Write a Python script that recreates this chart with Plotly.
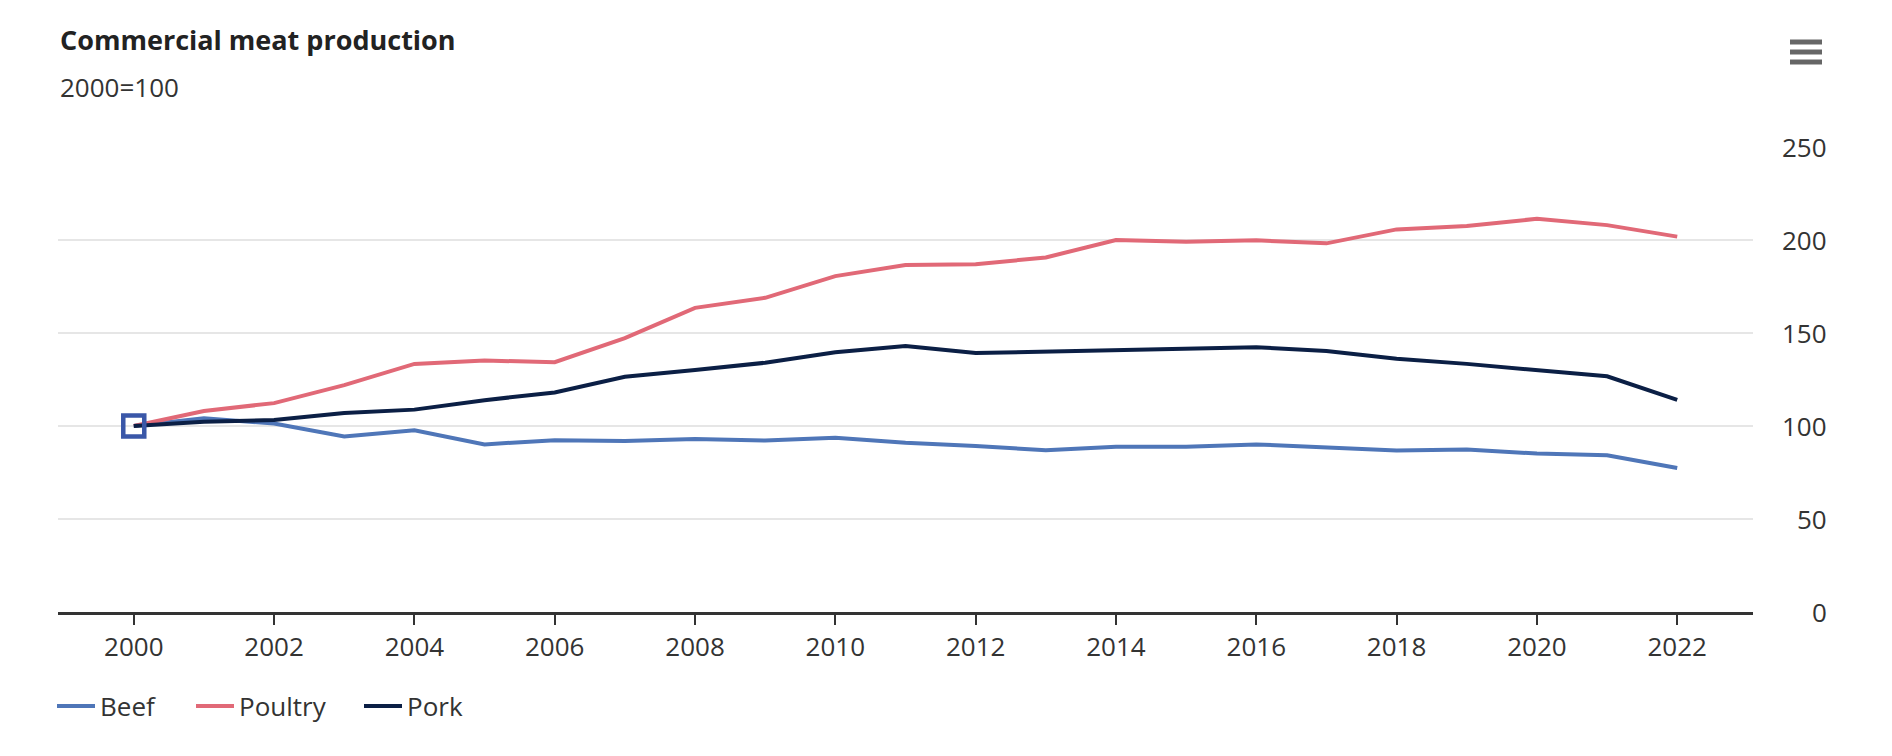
import plotly.graph_objects as go

years = list(range(2000, 2023))
beef = [100, 104.2, 101.3, 94.4, 97.7, 90.1, 92.4, 91.9, 93.0, 92.2, 93.7, 91.0,
        89.2, 87.0, 88.8, 88.8, 90.1, 88.6, 86.8, 87.4, 85.2, 84.3, 77.4]
poultry = [100, 108.1, 112.3, 122.0, 133.4, 135.2, 134.3, 147.3, 163.5, 168.9, 180.6, 186.5,
           187.0, 190.6, 200.0, 199.1, 199.8, 198.2, 205.7, 207.5, 211.4, 208.0, 201.8]
pork = [100, 102.3, 103.2, 107.0, 108.8, 113.9, 118.0, 126.5, 130.1, 134.0, 139.7, 143.0,
        139.2, 140.1, 140.6, 141.9, 142.4, 140.3, 136.1, 133.4, 130.3, 126.7, 114.0]
x_ticks = list(range(2000, 2023, 2))
y_ticks = [0, 50, 100, 150, 200, 250]

W, H = 1892, 756
L, R, T, B = 58, 1753, 147, 612
FONT = "Open Sans"

def px_x(px):
    return (px - L) / (R - L)

def px_y(py):
    return (B - py) / (B - T)

fig = go.Figure()
fig.add_trace(go.Scatter(x=years, y=beef, name="Beef", mode="lines", legend="legend",
                         line=dict(color="#4f76b8", width=4)))
fig.add_trace(go.Scatter(x=years, y=poultry, name="Poultry", mode="lines", legend="legend2",
                         line=dict(color="#e16977", width=4)))
fig.add_trace(go.Scatter(x=years, y=pork, name="Pork", mode="lines", legend="legend3",
                         line=dict(color="#0b1f45", width=4)))
fig.add_trace(go.Scatter(x=[years[0]], y=[beef[0]], mode="markers", showlegend=False,
                         marker=dict(symbol="square-open", size=21, color="#3a57a8",
                                     line=dict(width=4.5, color="#3a57a8"))))

annotations = [
    dict(text="<b>Commercial meat production</b>", xref="paper", yref="paper",
         x=0, y=px_y(40), xanchor="left", yanchor="middle", showarrow=False,
         font=dict(family=FONT, size=27, color="#222222")),
    dict(text="2000=100", xref="paper", yref="paper",
         x=0, y=px_y(87), xanchor="left", yanchor="middle", showarrow=False,
         font=dict(family=FONT, size=26, color="#333333")),
]
for v in y_ticks:
    annotations.append(dict(text=str(v), xref="paper", yref="y", x=px_x(1829), y=v,
                            xanchor="right", yanchor="middle", showarrow=False,
                            font=dict(family=FONT, size=26, color="#333333")))

shapes = []
for cy in (42, 52, 62):
    shapes.append(dict(type="line", xref="paper", yref="paper",
                       x0=px_x(1790), x1=px_x(1822), y0=px_y(cy), y1=px_y(cy),
                       line=dict(color="#666666", width=5)))

def legend_at(px_start):
    return dict(orientation="h", x=px_x(px_start - 6), xanchor="left", y=px_y(706),
                yanchor="middle", font=dict(family=FONT, size=26, color="#333333"),
                itemwidth=38, bgcolor="rgba(0,0,0,0)")

fig.update_layout(
    width=W, height=H,
    margin=dict(l=L, r=W - R, t=T, b=H - B),
    paper_bgcolor="white", plot_bgcolor="white",
    font=dict(family=FONT, size=26, color="#333333"),
    showlegend=True,
    legend=legend_at(58),
    legend2=legend_at(197),
    legend3=legend_at(365),
    annotations=annotations,
    shapes=shapes,
    hovermode=False,
)
fig.update_xaxes(range=[1998.92, 2023.08], tickvals=x_ticks, showgrid=False,
                 showline=True, linecolor="#333333", linewidth=3,
                 ticks="outside", ticklen=10, tickwidth=2, tickcolor="#333333",
                 tickfont=dict(family=FONT, size=26, color="#333333"), zeroline=False)
fig.update_yaxes(range=[0, 250], tickvals=y_ticks, showticklabels=False,
                 showgrid=True, gridcolor="#e6e6e6", gridwidth=2, zeroline=False,
                 side="right", showline=False)

fig.write_html("out.html", config={"displayModeBar": False},
               post_script="document.body.style.margin='0';")
